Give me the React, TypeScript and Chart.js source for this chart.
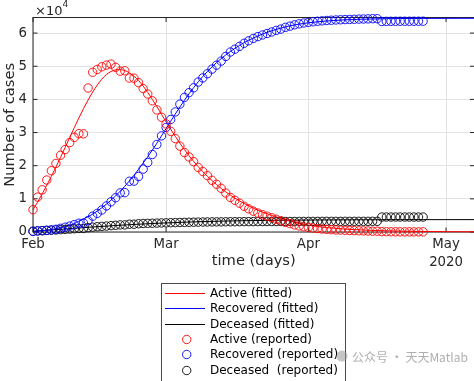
import React, { useEffect, useRef } from 'react';
import { Chart, registerables } from 'chart.js';

Chart.register(...registerables);

const FONT = '"DejaVu Sans", "Liberation Sans", sans-serif';
const CJK = '"Noto Sans CJK SC", "DejaVu Sans", sans-serif';

// x axis: days since 1 Feb 2020
const xTickDays = [0, 29, 60, 90];
const xTickLabels: (string | string[])[] = ['Feb', 'Mar', 'Apr', ['May', '2020']];
const yTickValues = [0, 10000, 20000, 30000, 40000, 50000, 60000];
const yTickLabels = ['0', '1', '2', '3', '4', '5', '6'];

// reported, one value per day from 1 Feb
const activeReported = [
  6736, 10532, 12722, 15677, 18483, 20677, 23139, 24881, 26965, 28532,
  29659, 29612, 43437, 48175, 49030, 49847, 50338, 50633, 49665, 48510,
  48637, 46439, 46395, 45044, 43252, 41603, 39572, 36829, 34617, 32610,
  30366, 28174, 25904, 23972, 22628, 21207, 19486, 18247, 16993, 15593,
  14407, 13171, 11755, 10421, 9557, 8685, 7751, 6988, 6285, 5715,
  5214, 4765, 4317, 3827, 3431, 2895, 2526, 2125, 1823, 1575,
  1364, 1186, 1034, 907, 792, 713, 635, 576, 515, 469,
  421, 366, 340, 303, 243, 236, 116, 84, 63, 57,
  51, 49, 47, 43, 41, 39,
];
const recoveredReported = [
  168, 295, 386, 522, 633, 817, 1115, 1439, 1795, 2222,
  2639, 2686, 3459, 4774, 5623, 6639, 7862, 9128, 10337, 11788,
  11881, 15299, 15343, 16748, 18971, 20969, 23383, 26403, 28993, 31536,
  33934, 36208, 38557, 40592, 42033, 43500, 45235, 46488, 47743, 49134,
  50318, 51553, 52960, 54288, 55142, 56003, 56927, 57682, 58382, 58946,
  59433, 59882, 60324, 60811, 61201, 61732, 62098, 62494, 62792, 63039,
  63245, 63417, 63565, 63689, 63801, 63878, 63956, 64014, 64073, 64118,
  64163, 64218, 64244, 64281, 64338, 64345, 63500, 63532, 63553, 63559,
  63565, 63567, 63569, 63573, 63575, 63577,
];
const deceasedReported = [
  249, 350, 414, 479, 549, 618, 699, 780, 871, 974,
  1068, 1068, 1310, 1457, 1596, 1696, 1789, 1921, 2029, 2144,
  2144, 2346, 2346, 2495, 2563, 2615, 2641, 2682, 2727, 2761,
  2803, 2835, 2871, 2902, 2931, 2959, 2986, 3008, 3024, 3046,
  3056, 3062, 3075, 3085, 3099, 3111, 3122, 3130, 3133, 3139,
  3153, 3153, 3160, 3163, 3169, 3174, 3177, 3182, 3186, 3187,
  3193, 3199, 3203, 3207, 3210, 3212, 3212, 3213, 3215, 3216,
  3219, 3219, 3219, 3219, 3222, 3222, 4512, 4512, 4512, 4512,
  4512, 4512, 4512, 4512, 4512, 4512,
];

// fitted curves, read at these days
const fitDays = [
  0, 1, 2, 3, 4, 5, 6, 7, 8, 9, 10, 11, 12, 13, 14, 15, 16, 17, 18, 19, 20,
  21, 22, 23, 24, 25, 26, 27, 28, 29, 30, 32, 34, 36, 38, 40, 42, 44, 46, 48,
  50, 52, 54, 56, 58, 60, 64, 68, 72, 76, 80, 85, 90, 96.2,
];
const activeFit = [
  6700, 9000, 11500, 14100, 16800, 19600, 22500, 25500, 28500, 31500, 34400,
  37200, 39800, 42200, 44300, 46100, 47500, 48400, 48900, 49000, 48700,
  48000, 47000, 45700, 44000, 42100, 40000, 37800, 35500, 33200, 31000,
  26800, 23000, 19700, 16800, 14300, 12100, 10200, 8600, 7200,
  6000, 5000, 4100, 3300, 2600, 2050, 1350, 880, 580, 390, 260, 160, 100, 60,
];
const recoveredFit = [
  150, 250, 380, 540, 740, 980, 1270, 1620, 2040, 2520, 3300,
  3900, 4600, 5400, 6300, 7300, 8400, 9600, 10900, 12300, 13800,
  15400, 17100, 18900, 20800, 22700, 24700, 26800, 29000, 31200, 33400,
  37700, 41700, 45300, 48400, 51100, 53400, 55400, 57100, 58500,
  59700, 60700, 61500, 62200, 62700, 63100, 63650, 64000, 64200, 64320, 64390, 64430, 64450, 64460,
];
const deceasedFit = [
  250, 330, 420, 510, 610, 710, 810, 910, 1010, 1110, 1210,
  1310, 1410, 1505, 1600, 1690, 1780, 1870, 1955, 2040, 2120,
  2200, 2275, 2350, 2420, 2490, 2555, 2620, 2680, 2740, 2795,
  2900, 3000, 3090, 3170, 3240, 3300, 3355, 3400, 3445,
  3480, 3515, 3545, 3570, 3590, 3610, 3645, 3670, 3690, 3705, 3715, 3725, 3730, 3735,
];

const seriesNames = ['Active', 'Recovered', 'Deceased'];
const seriesColors = ['#ff0000', '#0000ff', '#000000'];
const legendLabels = [
  'Active (fitted)',
  'Recovered (fitted)',
  'Deceased (fitted)',
  'Active (reported)',
  'Recovered (reported)',
  'Deceased  (reported)',
];
const xTitle = 'time (days)';
const yTitle = 'Number of cases';
const watermark = '公众号 · 天天Matlab';

const AXIS = '#262626';
const TICK_LEN = 4.5;
const MARKER_R = 4.2;

const decorPlugin = {
  id: 'decor',
  beforeDatasetsDraw(chart: any) {
    const { ctx, chartArea: a, scales } = chart;
    ctx.save();
    ctx.strokeStyle = AXIS;
    ctx.lineWidth = 1;
    ctx.strokeRect(a.left, a.top, a.right - a.left, a.bottom - a.top);
    ctx.beginPath();
    for (const v of xTickDays) {
      const px = scales.x.getPixelForValue(v);
      ctx.moveTo(px, a.bottom);
      ctx.lineTo(px, a.bottom - TICK_LEN);
      ctx.moveTo(px, a.top);
      ctx.lineTo(px, a.top + TICK_LEN);
    }
    for (const v of yTickValues) {
      const py = scales.y.getPixelForValue(v);
      ctx.moveTo(a.left, py);
      ctx.lineTo(a.left + TICK_LEN, py);
      ctx.moveTo(a.right, py);
      ctx.lineTo(a.right - TICK_LEN, py);
    }
    ctx.stroke();
    ctx.restore();
  },
  afterDraw(chart: any) {
    const { ctx, chartArea: a } = chart;
    ctx.save();
    ctx.fillStyle = AXIS;
    // y title
    ctx.save();
    ctx.translate(13.5, (a.top + a.bottom) / 2);
    ctx.rotate(-Math.PI / 2);
    ctx.font = `14.7px ${FONT}`;
    ctx.textAlign = 'center';
    ctx.textBaseline = 'alphabetic';
    ctx.fillText(yTitle, 0, 0);
    ctx.restore();
    // x title
    ctx.font = `14.7px ${FONT}`;
    ctx.textAlign = 'center';
    ctx.textBaseline = 'alphabetic';
    ctx.fillText(xTitle, (a.left + a.right) / 2, a.bottom + 32.5);
    // exponent
    ctx.textAlign = 'left';
    ctx.font = `13px ${FONT}`;
    ctx.fillText('×10', a.left + 2, a.top - 3);
    ctx.font = `9px ${FONT}`;
    ctx.fillText('4', a.left + 29.5, a.top - 10.5);

    // legend
    const lx = 161.5, ly = 283.5, lw = 184, lh = 110;
    ctx.fillStyle = '#ffffff';
    ctx.fillRect(lx, ly, lw, lh);
    ctx.strokeStyle = '#4a4a4a';
    ctx.lineWidth = 1;
    ctx.strokeRect(lx, ly, lw, lh);
    ctx.font = `12px ${FONT}`;
    ctx.textBaseline = 'middle';
    legendLabels.forEach((label, i) => {
      const y = Math.round(293 + i * 15.35) + 0.5;
      const color = seriesColors[i % 3];
      ctx.strokeStyle = color;
      if (i < 3) {
        ctx.lineWidth = 1;
        ctx.beginPath();
        ctx.moveTo(165, y);
        ctx.lineTo(205, y);
        ctx.stroke();
      } else {
        ctx.lineWidth = 0.9;
        ctx.beginPath();
        ctx.arc(186.7, y, MARKER_R, 0, Math.PI * 2);
        ctx.stroke();
      }
      ctx.fillStyle = '#000000';
      ctx.fillText(label, 210, y);
    });

    // watermark
    ctx.fillStyle = 'rgba(150,150,150,0.55)';
    ctx.beginPath();
    ctx.arc(342, 356, 5.5, 0, Math.PI * 2);
    ctx.fill();
    ctx.font = `12px ${CJK}`;
    ctx.fillStyle = 'rgba(120,120,120,0.6)';
    ctx.textBaseline = 'middle';
    ctx.fillText(watermark, 352, 357);
    ctx.restore();
  },
};

export default function App() {
  const ref = useRef<HTMLCanvasElement>(null);
  useEffect(() => {
    const canvas = ref.current;
    if (!canvas) return;
    const reportedDays = activeReported.map((_, i) => i);
    const pts = (xs: number[], ys: number[]) => xs.map((x, i) => ({ x, y: ys[i] }));
    const reported = [activeReported, recoveredReported, deceasedReported];
    const fitted = [activeFit, recoveredFit, deceasedFit];
    const datasets: any[] = [];
    seriesNames.forEach((name, k) => {
      datasets.push({
        label: `${name} (reported)`,
        data: pts(reportedDays, reported[k]),
        showLine: false,
        borderColor: seriesColors[k],
        backgroundColor: 'rgba(0,0,0,0)',
        pointStyle: 'circle',
        pointRadius: MARKER_R,
        pointBorderWidth: 0.9,
        pointBorderColor: seriesColors[k],
        pointBackgroundColor: 'rgba(0,0,0,0)',
        clip: false,
        order: 1,
      });
    });
    seriesNames.forEach((name, k) => {
      datasets.push({
        label: `${name} (fitted)`,
        data: pts(fitDays, fitted[k]),
        borderColor: seriesColors[k],
        borderWidth: 1,
        pointRadius: 0,
        fill: false,
        cubicInterpolationMode: 'monotone',
        clip: false,
        order: 2,
      });
    });
    const tickFont = { family: FONT, size: 13.3, lineHeight: 1.35 };
    const chart = new Chart(canvas, {
      type: 'line',
      data: { datasets },
      options: {
        animation: false,
        responsive: false,
        devicePixelRatio: 1,
        events: [],
        layout: { padding: { top: 17.5, right: 5.5, left: 0, bottom: 0 } },
        plugins: { legend: { display: false }, tooltip: { enabled: false } },
        scales: {
          x: {
            type: 'linear',
            min: 0,
            max: 96.2,
            afterBuildTicks: (s: any) => {
              s.ticks = xTickDays.map((v) => ({ value: v }));
            },
            afterFit: (s: any) => {
              s.height = 149;
            },
            grid: { color: '#e3e3e3', drawTicks: false, lineWidth: 1 },
            border: { display: false },
            ticks: {
              callback: (v: any) => {
                const i = xTickDays.indexOf(Number(v));
                return i >= 0 ? xTickLabels[i] : '';
              },
              font: tickFont,
              color: AXIS,
              padding: 4,
              maxRotation: 0,
              autoSkip: false,
            },
          },
          y: {
            type: 'linear',
            min: 0,
            max: 64700,
            afterBuildTicks: (s: any) => {
              s.ticks = yTickValues.map((v) => ({ value: v }));
            },
            afterFit: (s: any) => {
              s.width = 33;
            },
            grid: { color: '#e3e3e3', drawTicks: false, lineWidth: 1 },
            border: { display: false },
            ticks: {
              callback: (v: any) => {
                const i = yTickValues.indexOf(Number(v));
                return i >= 0 ? yTickLabels[i] : '';
              },
              font: { family: FONT, size: 13.3 },
              color: AXIS,
              padding: 6,
            },
          },
        },
      },
      plugins: [decorPlugin],
    } as any);
    return () => chart.destroy();
  }, []);
  return (
    <div
      style={{
        position: 'fixed',
        left: 0,
        top: 0,
        width: 474,
        height: 381,
        overflow: 'hidden',
        background: '#ffffff',
      }}
    >
      <canvas ref={ref} width={480} height={381} style={{ display: 'block' }} />
    </div>
  );
}
